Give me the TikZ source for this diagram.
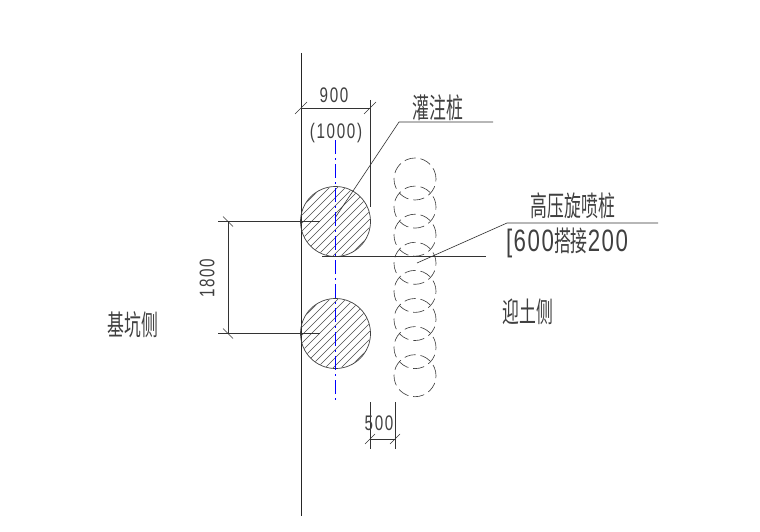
\documentclass[tikz,border=0pt]{standalone}
\usepackage{fontspec}
\setmainfont[FakeStretch=0.72, LetterSpace=8]{Liberation Sans}
\newfontfamily\bigfont[FakeStretch=0.72, LetterSpace=5]{Liberation Sans}
\newfontfamily\cjk[FakeStretch=0.6]{Noto Sans CJK SC}
\tikzstyle{every node}=[inner sep=0pt, font=\fontsize{15}{17}\selectfont]
\tikzstyle{line} = [line width=0.45pt, draw=black!80]
\tikzstyle{wall} = [line width=0.6pt, draw=black!85]
\tikzstyle{pile} = [circle, minimum size=1.75cm, line width=0.5pt, draw=black!75]
\tikzstyle{hatch} = [line width=0.3pt, draw=black!70]
\tikzstyle{jet} = [circle, minimum size=1.05cm, line width=0.45pt, draw=black!75, dash pattern=on 8pt off 3.5pt]
\tikzstyle{axisdash} = [fill=blue, draw=none]
\tikzstyle{textgrey} = [text=black!75]
\tikzstyle{hanzi} = [textgrey, font=\cjk\fontsize{20}{22}\selectfont]

\begin{document}
\begin{tikzpicture}[x=0.025cm, y=-0.025cm]
        \useasboundingbox (0,0) rectangle (760,531);
        \coordinate (walltop) at (301,53);
        \coordinate (wallbot) at (301,516);
        \draw [wall] (walltop) -- (wallbot);

        \node (pileA) [pile] at (335.5,221.5) {};
        \node (pileB) [pile] at (335.5,333.5) {};
        \foreach \p in {pileA,pileB} {
          \begin{scope}
            \clip (\p.center) circle (34.5);
            \foreach \d in {-72,-64,...,72}
              \draw [hatch] ([shift={(\d-50,50)}]\p.center) -- ([shift={(\d+50,-50)}]\p.center);
          \end{scope}
        }

        \foreach \i in {0,...,7}
          \node (jet\i) [jet] at (415,179+28.1*\i) {};

        % 900
        \coordinate (wa) at (301,108);
        \coordinate (wb) at (370,108);
        \coordinate (wc) at (370,100);
        \coordinate (wd) at (370,207);
        \draw [line] (wa) -- (wb);
        \draw [line] (wc) -- (wd);
        \draw [line] ([shift={(-6,6)}]wa) -- ([shift={(6,-6)}]wa);
        \draw [line] ([shift={(-6,6)}]wb) -- ([shift={(6,-6)}]wb);
        \node (width) [textgrey] at (334,95) {900};
        \node (widthb) [textgrey] at (336,133) {(1000)};

        % 1800
        \coordinate (ha) at (218,221.5);
        \coordinate (hb) at (320,221.5);
        \coordinate (hc) at (218,333.5);
        \coordinate (hd) at (320,333.5);
        \coordinate (he) at (228,221.5);
        \coordinate (hf) at (228,333.5);
        \draw [line] (ha) -- (hb);
        \draw [line] (hc) -- (hd);
        \draw [line] (he) -- (hf);
        \draw [line] ([shift={(-5,-5)}]he) -- ([shift={(5,5)}]he);
        \draw [line] ([shift={(-5,-5)}]hf) -- ([shift={(5,5)}]hf);
        \node (spacing) [textgrey, rotate=90] at (207,278) {1800};

        % 500
        \coordinate (ja) at (370,402);
        \coordinate (jb) at (370,449);
        \coordinate (jc) at (395,402);
        \coordinate (jd) at (395,449);
        \coordinate (je) at (370,439);
        \coordinate (jf) at (395,439);
        \draw [line] (ja) -- (jb);
        \draw [line] (jc) -- (jd);
        \draw [line] (je) -- (jf);
        \draw [line] ([shift={(-5,5)}]je) -- ([shift={(5,-5)}]je);
        \draw [line] ([shift={(-5,5)}]jf) -- ([shift={(5,-5)}]jf);
        \node (gap) [textgrey] at (379,423) {500};

        % tangent line
        \coordinate (ta) at (322,256.5);
        \coordinate (tb) at (486,256.5);
        \draw [line] (ta) -- (tb);

        % leaders
        \coordinate (la) at (335,218);
        \coordinate (lb) at (399,122);
        \coordinate (lc) at (493,122);
        \draw [line] (la) -- (lb) -- (lc);
        \node (bored) [hanzi] at (438,107.5) {灌注桩};

        \coordinate (ma) at (417,263);
        \coordinate (mb) at (507,223);
        \coordinate (mc) at (658,223);
        \draw [line] (ma) -- (mb) -- (mc);
        \node (jetname) [hanzi] at (573,206) {高压旋喷桩};
        \node (jetsize) [textgrey, font=\bigfont\fontsize{22}{24}\selectfont] at (567,243) {[600{\cjk\fontsize{20}{22}\selectfont 搭接}200};

        \node (pit) [hanzi] at (133,325) {基坑侧};
        \node (soil) [hanzi] at (528,312) {迎土侧};

        % axis
        \coordinate (axistop) at (335.5,140);
        \foreach \y in {0,24,...,240} {
          \fill [axisdash] ([shift={(-0.7,\y)}]axistop) rectangle ([shift={(0.7,\y+14)}]axistop);
          \fill [axisdash] ([shift={(-0.7,\y+18)}]axistop) rectangle ([shift={(0.7,\y+20)}]axistop);
        }
      \end{tikzpicture}
\end{document}
